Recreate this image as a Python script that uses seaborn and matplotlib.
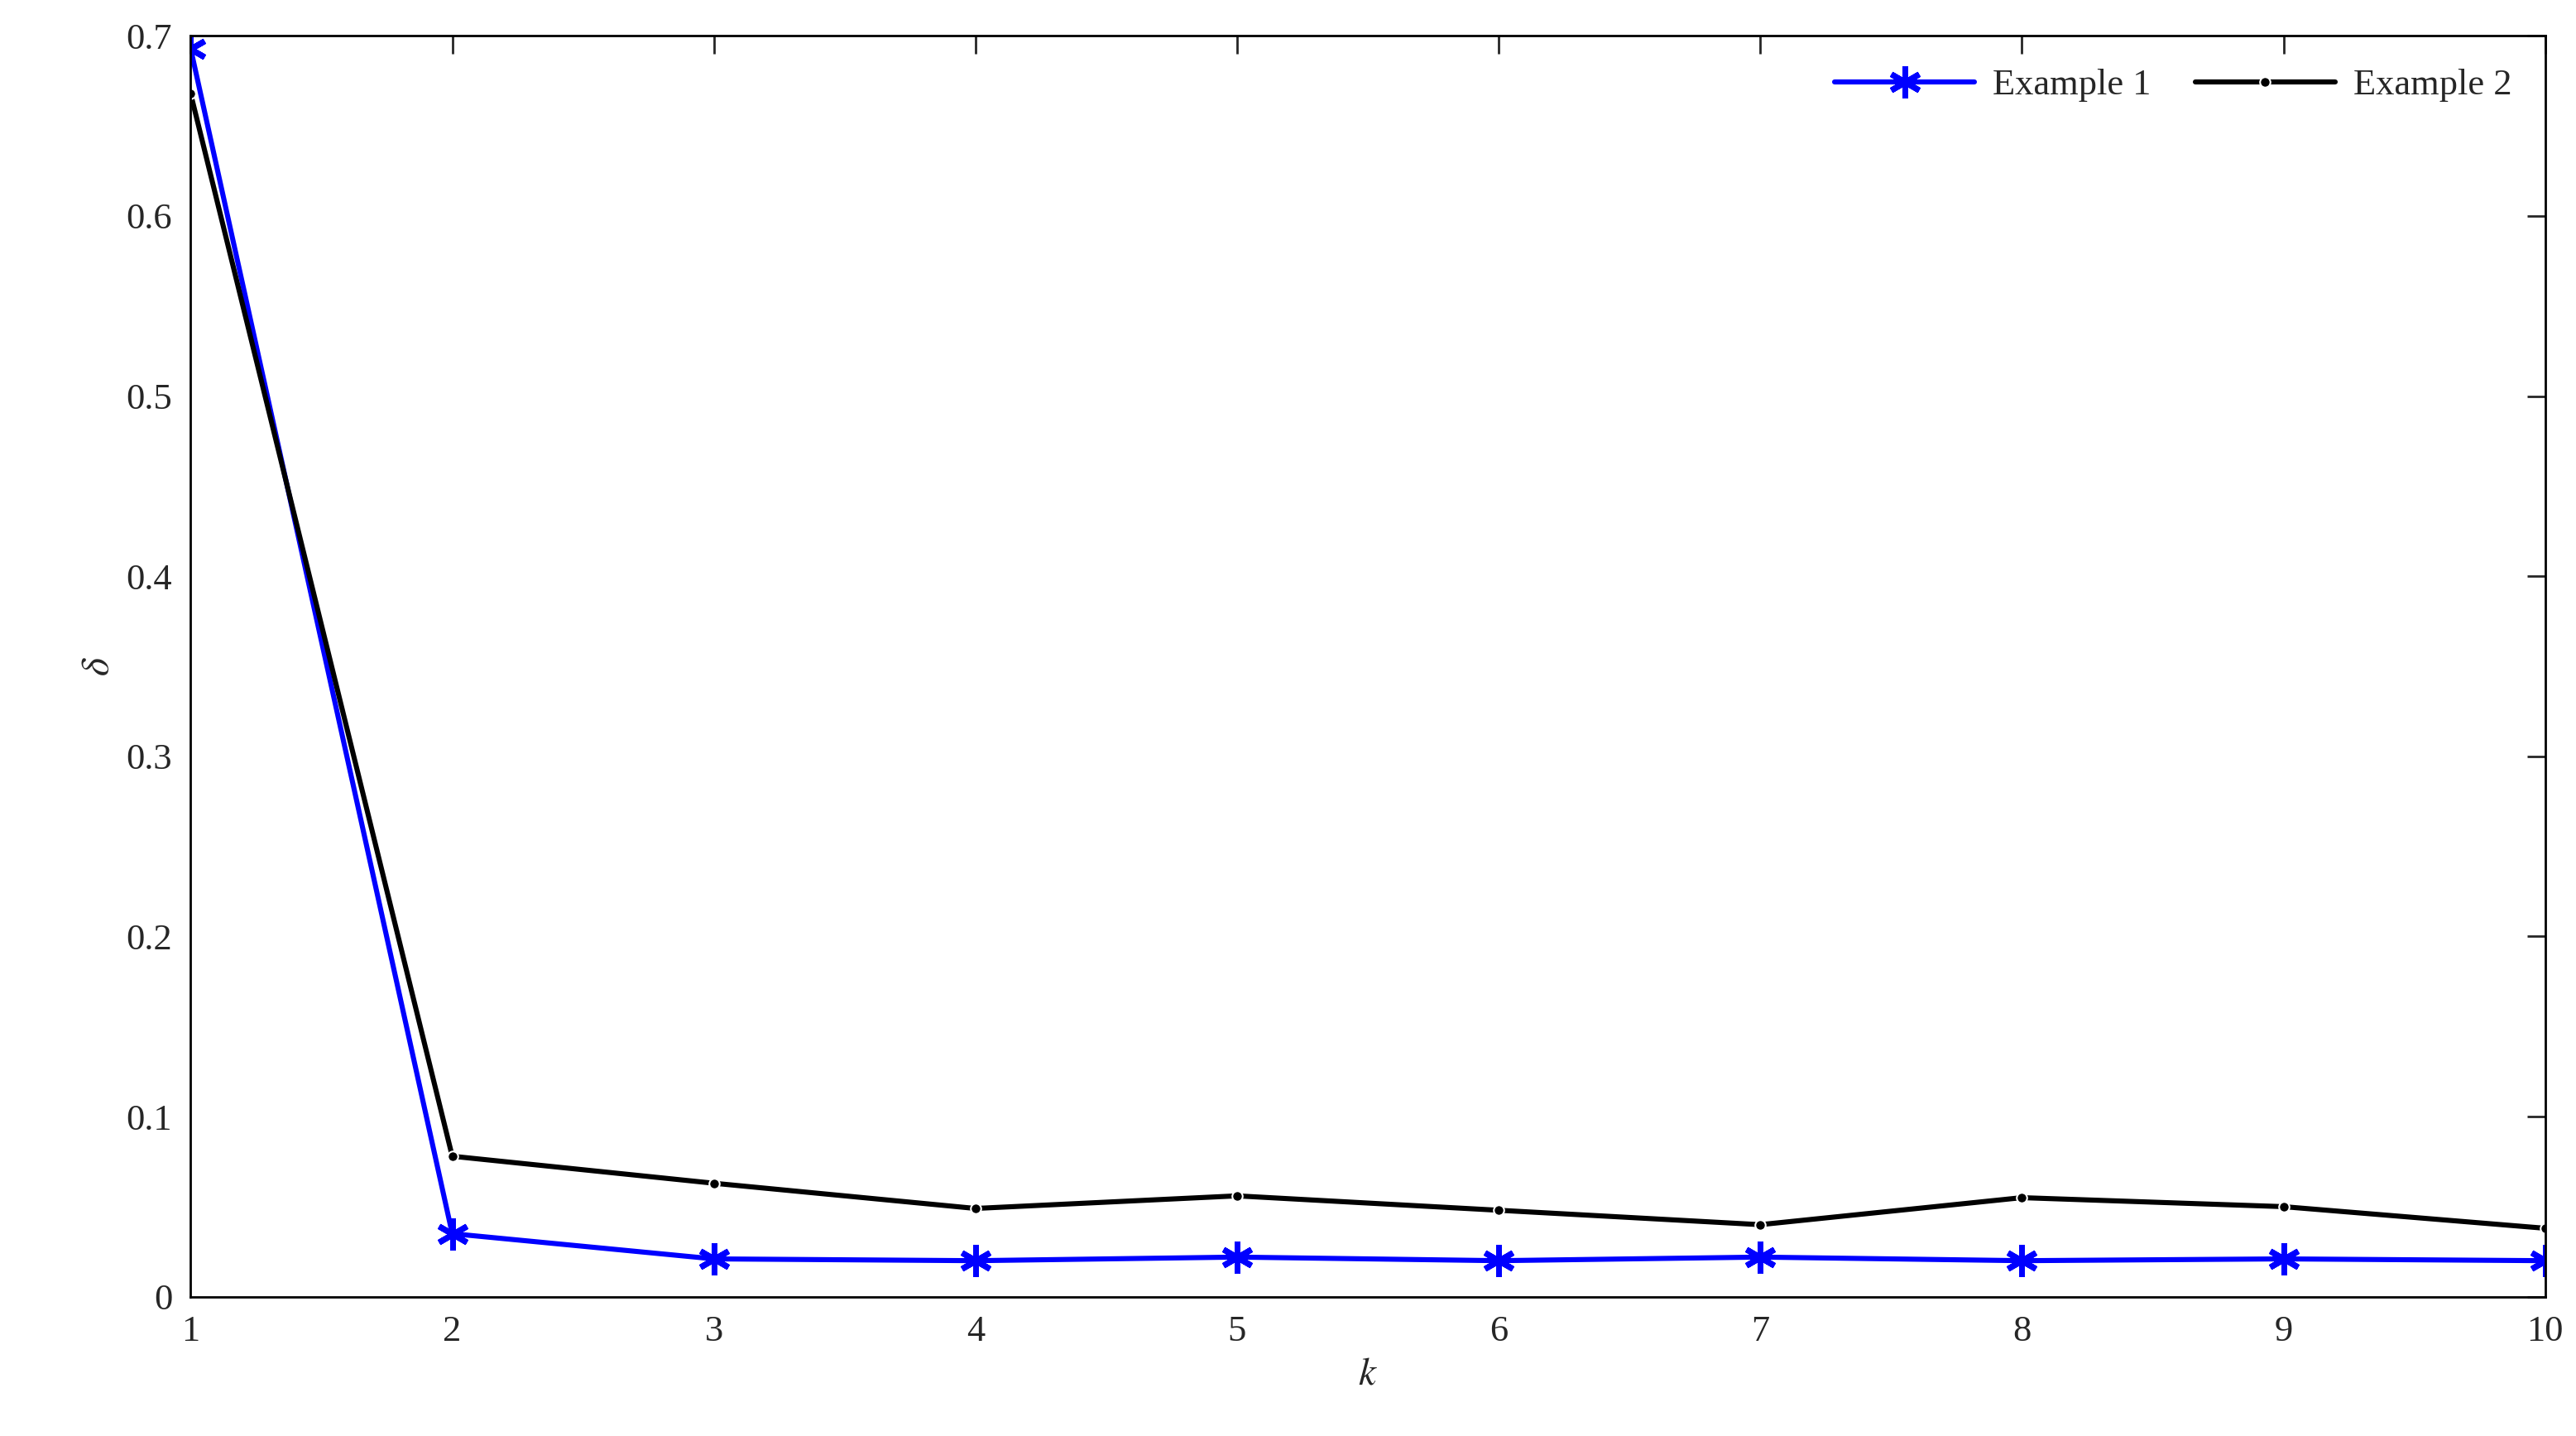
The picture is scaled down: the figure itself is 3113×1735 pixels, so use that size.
import matplotlib
matplotlib.use("Agg")
import matplotlib.pyplot as plt
import seaborn as sns
import pandas as pd

k = [1, 2, 3, 4, 5, 6, 7, 8, 9, 10]
ex1 = [0.693, 0.035, 0.021, 0.020, 0.022, 0.020, 0.022, 0.020, 0.021, 0.020]
ex2 = [0.668, 0.078, 0.063, 0.049, 0.056, 0.048, 0.040, 0.055, 0.050, 0.038]

sns.set_style("white")
plt.rcParams['font.family'] = ['Liberation Serif', 'DejaVu Serif']
plt.rcParams['mathtext.fontset'] = 'stix'

fig = plt.figure(figsize=(15.565, 8.675), dpi=200)
ax = fig.add_axes([0.074, 0.097, 0.914, 0.878])
df = pd.DataFrame({'k': k, 'ex1': ex1, 'ex2': ex2})
sns.lineplot(data=df, x='k', y='ex1', ax=ax, color='#0000ff', lw=2.2, marker=(6, 2, 0),
             markersize=14, markeredgewidth=2.5, markeredgecolor='#0000ff', label='Example 1')
sns.lineplot(data=df, x='k', y='ex2', ax=ax, color='black', lw=2.2, marker='o',
             markersize=4.5, label='Example 2')
ax.set_xlim(1, 10)
ax.set_ylim(0, 0.7)
ax.set_xticks(k)
ax.set_yticks([0, 0.1, 0.2, 0.3, 0.4, 0.5, 0.6, 0.7])
ax.set_yticklabels(['0', '0.1', '0.2', '0.3', '0.4', '0.5', '0.6', '0.7'])
ax.tick_params(direction='in', top=True, right=True, length=8, width=1, labelsize=16, pad=8)
ax.set_xlabel('$k$', fontsize=17)
ax.set_ylabel(r'$\delta$', fontsize=17)
for s in ax.spines.values():
    s.set_color('black'); s.set_linewidth(1)
ax.legend(loc='upper right', ncol=2, frameon=False, fontsize=16, handlelength=3.8,
          columnspacing=1.2, handletextpad=0.5)
fig.savefig('out.png', dpi=200, facecolor='white')
